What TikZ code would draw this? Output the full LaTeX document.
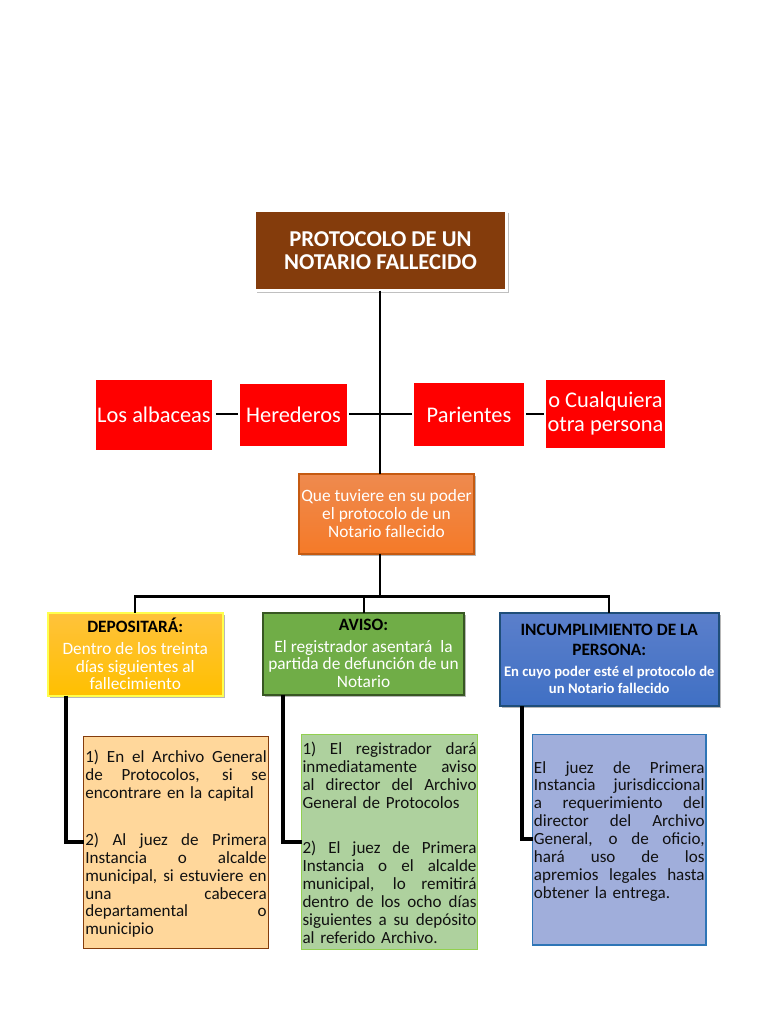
\documentclass[tikz,border=0pt]{standalone}
\usepackage{fontspec}
\setmainfont{Carlito}
\usetikzlibrary{shadows}
\definecolor{brownbox}{HTML}{843C0C}
\definecolor{hotred}{HTML}{FF0000}
\definecolor{bodyink}{HTML}{111111}
\definecolor{orangetop}{HTML}{EE8A4F}
\definecolor{orangebot}{HTML}{F57A28}
\definecolor{orangeedge}{HTML}{C55A11}
\definecolor{yellowtop}{HTML}{FFC23C}
\definecolor{yellowbot}{HTML}{FFC000}
\definecolor{yellowedge}{HTML}{FFFF4D}
\definecolor{greenfill}{HTML}{70AD47}
\definecolor{greenedge}{HTML}{385723}
\definecolor{bluetop}{HTML}{5B7FCB}
\definecolor{bluebot}{HTML}{4070C4}
\definecolor{blueedge}{HTML}{1F4E79}
\definecolor{peachfill}{HTML}{FFD79B}
\definecolor{sagefill}{HTML}{AED19E}
\definecolor{sageedge}{HTML}{92D050}
\definecolor{perifill}{HTML}{A0AEDB}
\definecolor{periedge}{HTML}{2E75B6}
\newcommand{\jl}[1]{\hbox to \hsize{\spaceskip=\fontdimen2\font plus 1fil\relax\xspaceskip=\spaceskip #1}}
\newcommand{\nl}[1]{\hbox{#1}}
\newcommand{\gap}[1]{\vskip #1pt}
\newcommand{\stack}[1]{\vbox{#1}}
\newcommand{\hd}[1]{\textcolor{black}{\fontsize{13}{15}\selectfont\bfseries #1}}
\newcommand{\sm}[1]{{\fontsize{11}{11.3}\selectfont\bfseries #1}}
\newcommand{\bx}[7][]{\node[#6,minimum width={(#4-#2)*0.75pt},minimum height={(#5-#3)*0.75pt},#1] (#7) at ({(#2+#4)/2},{(#3+#5)/2})}
\tikzset{
 base/.style={rectangle,inner sep=0pt,outer sep=0pt,align=center},
 softshadow/.style={drop shadow={opacity=.4,shadow xshift=1.6pt,shadow yshift=-1.6pt,fill=black!70}},
 titlebox/.style={base,drop shadow={opacity=.35,shadow xshift=1.9pt,shadow yshift=-1.9pt,fill=black!70},draw=white,line width=2pt,fill=brownbox,text=white,font=\fontsize{17}{17.2}\selectfont\bfseries},
 redbox/.style={base,fill=hotred,text=white,font=\fontsize{16.8}{18}\selectfont},
 orangebox/.style={base,softshadow,draw=orangeedge,line width=1.5pt,top color=orangetop,bottom color=orangebot,text=white,font=\fontsize{13}{13.3}\selectfont},
 yellowbox/.style={base,softshadow,draw=yellowedge,line width=1.5pt,top color=yellowtop,bottom color=yellowbot,text=white,font=\fontsize{13}{13.3}\selectfont},
 greenbox/.style={base,softshadow,draw=greenedge,line width=1.5pt,fill=greenfill,text=white,font=\fontsize{13}{13.3}\selectfont},
 bluebox/.style={base,softshadow,draw=blueedge,line width=1.5pt,top color=bluetop,bottom color=bluebot,text=white,font=\fontsize{13}{13.3}\selectfont},
 bodybox/.style={rectangle,inner ysep=0pt,inner xsep=0pt,outer sep=0pt,text=bodyink,font=\fontsize{12.8}{13.4}\selectfont},
 peach/.style={bodybox,draw=brownbox,line width=1pt,fill=peachfill,text width=136pt},
 sage/.style={bodybox,draw=sageedge,line width=1.2pt,fill=sagefill,text width=130.5pt},
 periwinkle/.style={bodybox,draw=periedge,line width=1.2pt,fill=perifill,text width=128pt},
 wire/.style={draw=black,line width=1.5pt},
 wirethick/.style={draw=black,line width=2.6pt},
}
\begin{document}
\begin{tikzpicture}[x=0.75pt,y=-0.75pt]
\useasboundingbox[fill=white] (0,0) rectangle (768,1024);
\bx{254.5}{210.5}{506.5}{290.5}{titlebox}{title} {PROTOCOLO DE UN\\NOTARIO FALLECIDO};
\bx{96}{380}{212}{450}{redbox}{alb} {Los albaceas};
\bx{240}{384}{347}{446}{redbox}{her} {Herederos};
\bx{414}{383}{524}{446}{redbox}{par} {Parientes};
\bx{546}{380}{665}{448}{redbox}{otr} {o Cualquiera\\otra persona};
\bx{299}{473.5}{474}{554}{orangebox}{que} {Que tuviere en su poder\\el protocolo de un\\Notario fallecido};
\bx{47.5}{612.5}{223}{695.5}{yellowbox}{dep} {\hd{DEPOSITARÁ:}\\[3pt]Dentro de los treinta\\días siguientes al\\fallecimiento};
\bx{263}{612.5}{464}{694.5}{greenbox}{avi} {\hd{AVISO:}\\[3pt]El registrador asentará\ \ la\\partida de defunción de un\\Notario};
\bx{499.5}{612.5}{719}{706}{bluebox}{inc} {\hd{INCUMPLIMIENTO DE LA}\\[1.5pt]\hd{PERSONA:}\\[2pt]\sm{En cuyo poder esté el protocolo de}\\\sm{un Notario fallecido}};
\bx{83.5}{736.5}{268.5}{948.5}{peach}{uno} {\stack{\gap{2}%
\jl{1) En el Archivo General}\jl{de Protocolos, si se}\nl{encontrare en la capital}\gap{22}%
\jl{2) Al juez de Primera}\jl{Instancia o alcalde}\jl{municipal, si estuviere en}\jl{una cabecera}\jl{departamental o}\nl{municipio}}};
\bx{301.5}{734.5}{477.5}{949.5}{sage}{dos} {\stack{\gap{1}%
\jl{1) El registrador dará}\jl{inmediatamente aviso}\jl{al director del Archivo}\nl{General de Protocolos}\gap{21}%
\jl{2) El juez de Primera}\jl{Instancia o el alcalde}\jl{municipal, lo remitirá}\jl{dentro de los ocho días}\jl{siguientes a su depósito}\nl{al referido Archivo.}}};
\bx{532.5}{734.5}{706}{945}{periwinkle}{tre} {\stack{%
\jl{El juez de Primera}\jl{Instancia jurisdiccional}\jl{a requerimiento del}\jl{director del Archivo}\jl{General, o de oficio,}\jl{hará uso de los}\jl{apremios legales hasta}\nl{obtener la entrega.}\gap{13}}};
\coordinate (mid) at (380,414);
\coordinate (bus) at (380,596.5);
\coordinate (drop1) at (135,596.5);
\coordinate (drop2) at (364,596.5);
\coordinate (drop3) at (609,596.5);
\coordinate (elbow1) at (66,842);
\coordinate (elbow2) at (283,842);
\coordinate (elbow3) at (522,839);
\draw[wire] (title.south -| mid) -- (que.north -| mid);
\draw[wire,line width=1.8pt] ([xshift=1.5pt]her.east |- mid) -- ([xshift=-1.5pt]par.west |- mid);
\draw[wire,line width=1.8pt] ([xshift=3pt]alb.east |- mid) -- ([xshift=-1.5pt]her.west |- mid);
\draw[wire,line width=1.8pt] ([xshift=1.5pt]par.east |- mid) -- ([xshift=-1.5pt]otr.west |- mid);
\draw[wire] (que.south -| bus) -- (bus);
\draw[wire,line width=2pt] (dep.north -| drop1) -- (drop1) -- (drop3) -- (inc.north -| drop3);
\draw[wire,line width=2pt] (drop2) -- (avi.north -| drop2);
\draw[wirethick] (dep.south -| elbow1) -- (elbow1) -- (uno.west |- elbow1);
\draw[wirethick] (avi.south -| elbow2) -- (elbow2) -- (dos.west |- elbow2);
\draw[wirethick] (inc.south -| elbow3) -- (elbow3) -- (tre.west |- elbow3);
\end{tikzpicture}
\end{document}
